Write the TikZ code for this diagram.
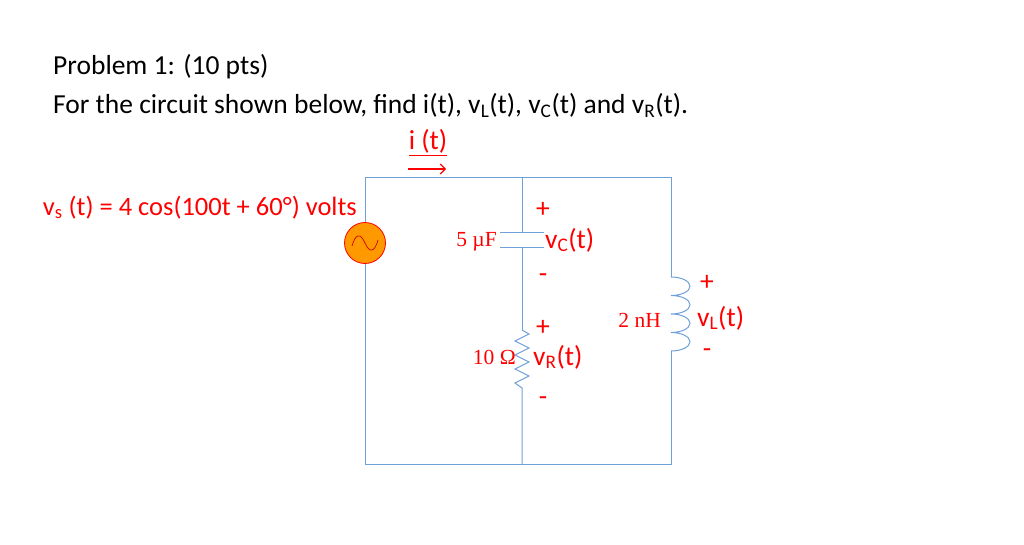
\documentclass[tikz,border=0pt]{standalone}
\usepackage{fontspec}
\setmainfont{Carlito}
\newfontfamily\tms{Liberation Serif}
\usetikzlibrary{arrows.meta}
\definecolor{wire}{HTML}{6FA0D8}
\definecolor{lbl}{HTML}{FF0000}
\tikzset{w/.style={draw=wire,line width=1pt},
 txt/.style={font=\fontsize{27.5}{30}\selectfont,inner sep=0pt},
 rl/.style={txt,text=lbl},
 vl/.style={text=lbl,inner sep=0pt,font=\tms\fontsize{21.5}{24}\selectfont}}
\begin{document}
\begin{tikzpicture}[x=1pt,y=-1pt]
\useasboundingbox (0,0) rectangle (1024,545);
\node[txt,anchor=base west] (t1) at (53,75) {Problem 1: (10 pts)};
\node[txt,anchor=base west] (t2) at (53,114) {For the circuit shown below, find i(t), v\textsubscript{L}(t), v\textsubscript{C}(t) and v\textsubscript{R}(t).};
\node[rl,anchor=base] (it) at (428,150) {\underline{i (t)}};
\coordinate (ia) at (408,169); \coordinate (ib) at (446,169);
\draw[lbl,line width=1.2pt,-{Straight Barb[length=5pt]}] (ia) -- (ib);
\node[rl,anchor=base east,font=\fontsize{26.5}{30}\selectfont] (vs) at (357,215) {v\textsubscript{s} (t) = 4 cos(100t + 60\textdegree) volts};
% wires
\coordinate (tl) at (365,178); \coordinate (tm) at (522,178); \coordinate (tr) at (671,178);
\coordinate (bl) at (365,464); \coordinate (bm) at (522,464); \coordinate (br) at (671,464);
\node[circle,draw=lbl,fill=orange!80!yellow,minimum size=41pt,inner sep=0pt,line width=0.8pt] (src) at (365,243) {};
\draw[w] (src.north) -- (tl) -- (tr) -- (671,277);
\draw[w] (src.south) -- (bl) -- (br) -- (671,351);
\draw[red!80!black,line width=0.7pt] (352,246) .. controls (356,232) and (361,234) .. (365,243) .. controls (369,252) and (374,254) .. (378,240);
% capacitor
\coordinate (c1) at (522,233); \coordinate (c2) at (522,247);
\draw[w] (tm) -- (c1); \draw[w] (500,233) -- (544,233); \draw[w] (500,247) -- (544,247);
\draw[w] (c2) -- (522,330);
\draw[w] (522,330) -- (529,334) -- (515,341) -- (529,348) -- (515,355) -- (529,362) -- (515,369) -- (529,376) -- (515,383) -- (522,388) -- (bm);
% inductor
\draw[w] (671,277) arc[start angle=90,end angle=-90,x radius=19pt,y radius=9.25pt] arc[start angle=90,end angle=-90,x radius=19pt,y radius=9.25pt] arc[start angle=90,end angle=-90,x radius=19pt,y radius=9.25pt] arc[start angle=90,end angle=-90,x radius=19pt,y radius=9.25pt];
% labels
\node[rl,anchor=center] (cp) at (543,210) {+};
\node[rl,anchor=west] (vc) at (545,240) {v\textsubscript{C}(t)};
\node[rl,anchor=center] (cm) at (543,278) {-};
\node[vl,anchor=east] (cv) at (497,242) {5 µF};
\node[rl,anchor=center] (rp) at (543,328) {+};
\node[rl,anchor=west] (vr) at (533,357) {v\textsubscript{R}(t)};
\node[rl,anchor=center] (rm) at (543,401) {-};
\node[vl,anchor=east] (rv) at (516,357) {10 Ω};
\node[rl,anchor=center] (lp) at (707,283) {+};
\node[rl,anchor=west] (vL) at (697,318) {v\textsubscript{L}(t)};
\node[rl,anchor=center] (lm) at (707,353) {-};
\node[vl,anchor=east] (lv) at (661,320) {2 nH};
\end{tikzpicture}
\end{document}
